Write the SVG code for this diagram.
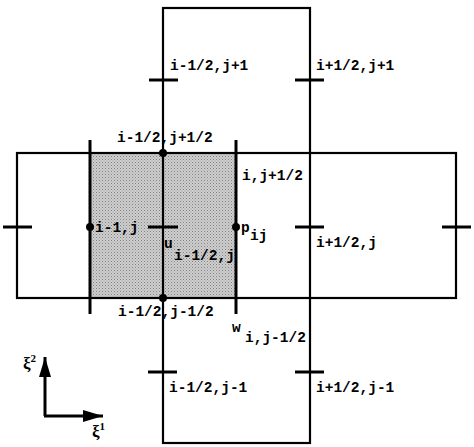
<svg xmlns="http://www.w3.org/2000/svg" width="474" height="447" viewBox="0 0 474 447">
<style>
.box{fill:none;stroke:#000;stroke-width:2.2}
.thick{stroke:#000;stroke-width:3}
.tick{stroke:#000;stroke-width:3}
.lbl{font-family:"Liberation Mono","DejaVu Sans Mono",monospace;font-weight:bold;font-size:14.5px;fill:#000}
.sub{font-family:"Liberation Mono","DejaVu Sans Mono",monospace;font-weight:bold;font-size:14.5px;fill:#000}
.axl{font-family:"Liberation Serif","Times New Roman",serif;font-weight:bold;font-size:17px;fill:#000}
.dot{fill:#000}
</style>
<defs>
<pattern id="stip" width="3" height="3" patternUnits="userSpaceOnUse">
<rect width="3" height="3" fill="#cfcfcf"/>
<rect x="0" y="0" width="1" height="1" fill="#808080"/>
<rect x="1.5" y="1.5" width="1" height="1" fill="#9a9a9a"/>
</pattern>
<marker id="ah" viewBox="0 0 20 12" refX="20" refY="6" markerWidth="20" markerHeight="12" markerUnits="userSpaceOnUse" orient="auto">
<path d="M0,0 L20,6 L0,12 Z" fill="#000"/>
</marker>
</defs>
<g id="control-volume">
<rect x="90" y="153" width="146" height="145" fill="url(#stip)"/>
</g>
<g id="cell-row">
<rect class="box" x="17" y="153" width="439" height="145"/>
</g>
<g id="cell-column">
<rect class="box" x="163" y="8" width="147" height="435"/>
</g>
<g id="connectors">
<line class="thick" x1="90" y1="140" x2="90" y2="314"/>
<line class="thick" x1="236" y1="140" x2="236" y2="314"/>
<line class="tick" x1="149" y1="80" x2="178" y2="80"/>
<line class="tick" x1="295" y1="80" x2="324" y2="80"/>
<line class="tick" x1="3" y1="227" x2="32" y2="227"/>
<line class="tick" x1="148" y1="227" x2="178" y2="227"/>
<line class="tick" x1="295" y1="227" x2="324" y2="227"/>
<line class="tick" x1="442" y1="227" x2="471" y2="227"/>
<line class="tick" x1="148" y1="372" x2="177" y2="372"/>
<line class="tick" x1="295" y1="372" x2="324" y2="372"/>
<line stroke="#000" stroke-width="3" x1="45" y1="416" x2="45" y2="357" marker-end="url(#ah)"/>
<line stroke="#000" stroke-width="3" x1="44" y1="416" x2="103" y2="416" marker-end="url(#ah)"/>
</g>
<g id="points">
<circle class="dot" cx="163" cy="153" r="4"/>
<circle class="dot" cx="163" cy="298" r="4"/>
<circle class="dot" cx="90" cy="227" r="4"/>
<circle class="dot" cx="236" cy="227" r="4"/>
</g>
<g id="labels">
<text class="lbl" x="170" y="70">i-1/2,j+1</text>
<text class="lbl" x="316" y="70">i+1/2,j+1</text>
<text class="lbl" x="117" y="142">i-1/2,j+1/2</text>
<text class="lbl" x="242" y="180">i,j+1/2</text>
<text class="lbl" x="95" y="232">i-1,j</text>
<text class="lbl" x="241" y="232">p</text>
<text class="sub" x="250" y="240">ij</text>
<text class="lbl" x="164" y="248">u</text>
<text class="sub" x="174" y="260">i-1/2,j</text>
<text class="lbl" x="316" y="247">i+1/2,j</text>
<text class="lbl" x="118" y="316">i-1/2,j-1/2</text>
<text class="lbl" x="232" y="332">w</text>
<text class="sub" x="245" y="342">i,j-1/2</text>
<text class="lbl" x="169" y="392">i-1/2,j-1</text>
<text class="lbl" x="316" y="392">i+1/2,j-1</text>
<text class="axl" x="23" y="369">ξ<tspan font-size="11" dy="-7">2</tspan></text>
<text class="axl" x="92" y="437">ξ<tspan font-size="11" dy="-7">1</tspan></text>
</g>
</svg>
